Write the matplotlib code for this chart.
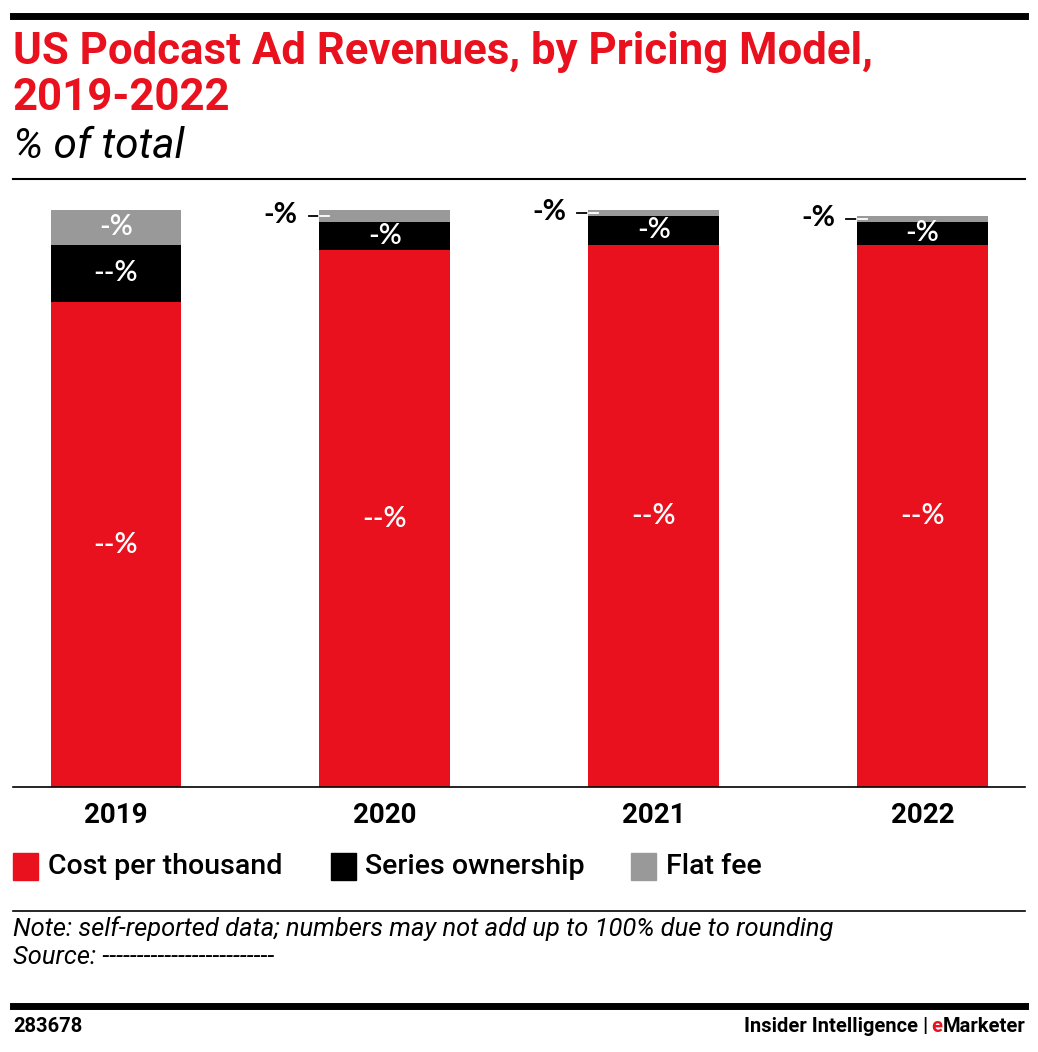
import matplotlib.pyplot as plt
from matplotlib.lines import Line2D
from matplotlib.patches import Rectangle

plt.rcParams['font.family'] = ['Roboto', 'DejaVu Sans']

# data (% of total)
years = ['2019', '2020', '2021', '2022']
cpm = [84, 93, 94, 94]
series_own = [10, 5, 5, 4]
flat_fee = [6, 2, 1, 1]
cpm_labels = ['--%', '--%', '--%', '--%']
own_labels = ['--%', '-%', '-%', '-%']
flat_labels = ['-%', '-%', '-%', '-%']

RED = '#E8111D'
BLACK = '#000000'
GRAY = '#999999'

W, H = 1038, 1052
fig = plt.figure(figsize=(W / 100, H / 100), dpi=100)

def fx(px):
    return px / W

def fy(py):
    return 1 - py / H

# axes
ax = fig.add_axes([fx(13), fy(787), fx(1025) - fx(13), fy(210) - fy(787)])
x = list(range(len(years)))
bw = 0.487
ax.bar(x, cpm, width=bw, color=RED, zorder=2)
ax.bar(x, series_own, width=bw, bottom=cpm, color=BLACK, zorder=2)
bottoms = [a + b for a, b in zip(cpm, series_own)]
ax.bar(x, flat_fee, width=bw, bottom=bottoms, color=GRAY, zorder=2)

ax.set_xlim(-0.383, 3.381)
ax.set_ylim(0, 100)
ax.set_yticks([])
ax.set_xticks(x)
ax.set_xticklabels(years, fontsize=20, fontweight='bold')
ax.tick_params(axis='x', length=0, pad=11)
for s in ['top', 'left', 'right']:
    ax.spines[s].set_visible(False)
ax.spines['bottom'].set_linewidth(1.2)

lab_font = ['Lato', 'DejaVu Sans']
lab_fs = 20.5
for i in x:
    ax.text(i, cpm[i] / 2, cpm_labels[i], color='white', ha='center', va='center',
            fontsize=lab_fs, family=lab_font, fontweight='semibold')
    ax.text(i, cpm[i] + series_own[i] / 2, own_labels[i], color='white', ha='center',
            va='center', fontsize=lab_fs, family=lab_font, fontweight='semibold')
    yc = bottoms[i] + flat_fee[i] / 2
    if flat_fee[i] >= 4:
        ax.text(i, yc, flat_labels[i], color='white', ha='center', va='center',
                fontsize=lab_fs, family=lab_font, fontweight='semibold')
    else:
        left = i - bw / 2
        ax.plot([left - 0.04, left], [yc, yc], color=BLACK, lw=1.3, clip_on=False, zorder=3)
        ax.plot([left, left + 0.035], [yc, yc], color='white', lw=1.3, clip_on=False, zorder=3)
        ax.text(left - 0.08, yc + 0.2, flat_labels[i], color=BLACK, ha='right', va='center',
                fontsize=lab_fs, family=lab_font, fontweight='bold', clip_on=False)

# title block
fig.add_artist(Line2D([fx(13), fx(1025)], [fy(15.5), fy(15.5)], color='black', lw=5))
fig.text(fx(13), fy(64), 'US Podcast Ad Revenues, by Pricing Model,', color=RED,
         fontsize=31.5, fontweight='bold', va='baseline')
fig.text(fx(13), fy(110), '2019-2022', color=RED, fontsize=31.5, fontweight='bold', va='baseline')
fig.text(fx(13), fy(158), '% of total', color='black', fontsize=30.5, fontstyle='italic',
         fontweight='normal', va='baseline')
fig.add_artist(Line2D([fx(13), fx(1025)], [fy(178.5), fy(178.5)], color='black', lw=1.5))

# legend
leg_items = [('Cost per thousand', RED, 13, 48), ('Series ownership', BLACK, 331, 365),
             ('Flat fee', GRAY, 631, 666)]
for name, col, sx, tx in leg_items:
    fig.add_artist(Rectangle((fx(sx), fy(880)), fx(25), fy(853) - fy(880), color=col,
                             transform=fig.transFigure))
    fig.text(fx(tx), fy(867), name, fontsize=20.5, fontweight='medium', va='center')

# notes
fig.add_artist(Line2D([fx(13), fx(1025)], [fy(910.5), fy(910.5)], color='black', lw=1.2))
fig.text(fx(13), fy(936), 'Note: self-reported data; numbers may not add up to 100% due to rounding',
         fontsize=18.4, fontstyle='italic', va='baseline')
fig.text(fx(13), fy(964), 'Source: -------------------------',
         fontsize=18.4, fontstyle='italic', va='baseline')

# footer
fig.add_artist(Line2D([fx(13), fx(1025)], [fy(1005.5), fy(1005.5)], color='black', lw=5))
fig.text(fx(13), fy(1027), '283678', fontsize=14.5, fontweight='bold', va='center')
r = fig.canvas.get_renderer()
t1 = fig.text(fx(1025), fy(1027), 'Marketer', fontsize=14.5, fontweight='bold', va='center',
              ha='right')
x1 = fig.transFigure.inverted().transform((t1.get_window_extent(r).x0, 0))[0]
t2 = fig.text(x1, fy(1027), 'e', fontsize=14.5, fontweight='bold', va='center', ha='right',
              color=RED)
x2 = fig.transFigure.inverted().transform((t2.get_window_extent(r).x0, 0))[0]
fig.text(x2 - fx(3), fy(1027), 'Insider Intelligence |', fontsize=14.5, fontweight='bold',
         va='center', ha='right')

fig.savefig('out.png', dpi=100)
